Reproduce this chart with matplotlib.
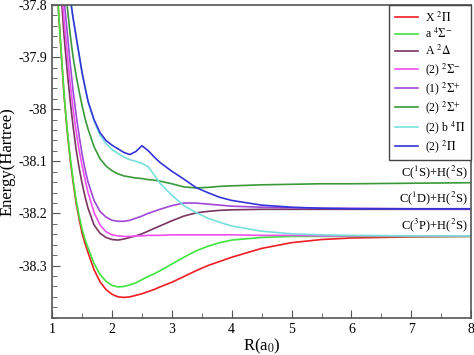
import numpy as np
import matplotlib
matplotlib.use("Agg")
import matplotlib.pyplot as plt
from matplotlib.ticker import MultipleLocator

plt.rcParams['font.family'] = ['Liberation Serif', 'DejaVu Serif']
plt.rcParams['mathtext.fontset'] = 'stix'

# bond length grid (a0)
R = [1.05, 1.1, 1.15, 1.2, 1.25, 1.3, 1.35, 1.4, 1.45, 1.5, 1.55, 1.6, 1.7, 1.8,
     1.9, 2.0, 2.1, 2.2, 2.3, 2.4, 2.5, 2.6, 2.7, 2.8, 3.0, 3.2, 3.4, 3.6, 3.8,
     4.0, 4.5, 5.0, 5.5, 6.0, 7.0, 8.0]

X2Pi = [-37.70, -37.80, -37.89, -37.975, -38.04, -38.095, -38.14, -38.18, -38.21,
        -38.238, -38.258, -38.275, -38.308, -38.331, -38.346, -38.355, -38.360,
        -38.361, -38.360, -38.357, -38.354, -38.350, -38.346, -38.341, -38.332,
        -38.321, -38.310, -38.300, -38.292, -38.284, -38.267, -38.256, -38.250,
        -38.247, -38.245, -38.244]
a4SigM = [-37.70, -37.80, -37.888, -37.972, -38.037, -38.091, -38.135, -38.174,
          -38.204, -38.23, -38.25, -38.266, -38.296, -38.317, -38.330, -38.338,
          -38.341, -38.340, -38.337, -38.333, -38.327, -38.321, -38.316, -38.310,
          -38.297, -38.284, -38.272, -38.263, -38.256, -38.251, -38.246, -38.244,
          -38.244, -38.244, -38.244, -38.244]
A2Delta = [-37.60, -37.69, -37.78, -37.86, -37.925, -37.982, -38.033, -38.077,
           -38.112, -38.142, -38.168, -38.19, -38.222, -38.238, -38.246, -38.250,
           -38.251, -38.249, -38.246, -38.243, -38.239, -38.234, -38.229, -38.224,
           -38.214, -38.205, -38.199, -38.196, -38.194, -38.193, -38.192, -38.192,
           -38.192, -38.192, -38.192, -38.192]
Sig2M_2 = [-37.59, -37.68, -37.76, -37.83, -37.89, -37.95, -38.00, -38.042,
           -38.078, -38.108, -38.135, -38.16, -38.198, -38.222, -38.235, -38.241,
           -38.243, -38.244, -38.244, -38.243, -38.243, -38.242, -38.242, -38.242,
           -38.241, -38.241, -38.241, -38.241, -38.241, -38.241, -38.242, -38.242,
           -38.243, -38.243, -38.243, -38.243]
Sig2P_1 = [-37.56, -37.64, -37.72, -37.79, -37.85, -37.91, -37.965, -38.01,
           -38.05, -38.086, -38.115, -38.14, -38.175, -38.196, -38.207, -38.213,
           -38.215, -38.215, -38.213, -38.209, -38.205, -38.200, -38.196, -38.192,
           -38.185, -38.180, -38.180, -38.182, -38.184, -38.186, -38.188, -38.189,
           -38.190, -38.190, -38.191, -38.191]
Sig2P_2 = [-37.45, -37.55, -37.64, -37.72, -37.80, -37.855, -37.90, -37.935,
           -37.965, -37.993, -38.018, -38.038, -38.072, -38.095, -38.109, -38.118,
           -38.124, -38.128, -38.130, -38.132, -38.133, -38.135, -38.136, -38.138,
           -38.143, -38.149, -38.151, -38.150, -38.148, -38.147, -38.145, -38.144,
           -38.143, -38.143, -38.142, -38.141]
b4Pi_2 = [-37.45, -37.54, -37.62, -37.68, -37.74, -37.785, -37.825, -37.86,
          -37.895, -37.93, -37.958, -37.985, -38.022, -38.050, -38.066, -38.077,
          -38.085, -38.092, -38.097, -38.100, -38.104, -38.110, -38.125, -38.142,
          -38.165, -38.185, -38.198, -38.209, -38.217, -38.224, -38.234, -38.239,
          -38.241, -38.242, -38.243, -38.243]
Pi2_2 = [-37.45, -37.54, -37.62, -37.68, -37.74, -37.785, -37.825, -37.86,
         -37.895, -37.93, -37.958, -37.985, -38.02, -38.045, -38.060, -38.069,
         -38.076, -38.083, -38.087, -38.081, -38.070, -38.079, -38.091, -38.102,
         -38.119, -38.134, -38.150, -38.160, -38.169, -38.175, -38.184, -38.188,
         -38.190, -38.191, -38.191, -38.191]

curves = [X2Pi, a4SigM, A2Delta, Sig2M_2, Sig2P_1, Sig2P_2, b4Pi_2, Pi2_2]
labels = [r'X $^2\Pi$', r'a $^4\Sigma^{-}$', r'A $^2\Delta$', r'(2) $^2\Sigma^{-}$',
          r'(1) $^2\Sigma^{+}$', r'(2) $^2\Sigma^{+}$', r'(2) b $^4\Pi$', r'(2) $^2\Pi$']
colors = ['#ee1c24', '#3fe43f', '#7a3462', '#f050f0', '#a048d8', '#3a9a3a',
          '#78e0dc', '#3434d8']

# dissociation limits
limits = [-38.141, -38.191, -38.244]
limit_labels = [r'C($^1$S)+H($^2$S)', r'C($^1$D)+H($^2$S)', r'C($^3$P)+H($^2$S)']

fig = plt.figure(figsize=(4.74, 3.55), dpi=100)
ax = fig.add_axes([0.110, 0.105, 0.884, 0.881])

for y, lab, c in zip(curves, labels, colors):
    ax.plot(R, y, color=c, lw=1.2, label=lab)

for lv, lt in zip(limits, limit_labels):
    ax.text(7.95, lv + 0.004, lt, ha='right', va='bottom', fontsize=9)

ax.set_xlim(1, 8)
ax.set_ylim(-38.4, -37.8)
ax.xaxis.set_minor_locator(MultipleLocator(0.5))
ax.yaxis.set_minor_locator(MultipleLocator(0.02))
ax.set_yticks([-38.3, -38.2, -38.1, -38.0, -37.9, -37.8])
ax.set_yticklabels(['-38.3', '-38.2', '-38.1', '-38', '-37.9', '-37.8'])
ax.set_xticks(range(1, 9))
ax.set_xticklabels([str(i) for i in range(1, 9)])
ax.tick_params(which='both', direction='in', top=False, right=False,
               color='#555555', labelsize=10)
ax.tick_params(which='major', length=6)
ax.tick_params(which='minor', length=3.5)
for s in ax.spines.values():
    s.set_color('#555555')
    s.set_linewidth(1.2)

ax.set_xlabel(r'R(a$_0$)', fontsize=12, labelpad=1)
ax.set_ylabel('Energy(Hartree)', fontsize=12, labelpad=2)

leg = ax.legend(loc='upper right', fontsize=8.5, fancybox=False, framealpha=1,
                edgecolor='#444444', borderaxespad=0, handlelength=2.0,
                handletextpad=0.6, labelspacing=0.22, borderpad=0.45)
leg.get_frame().set_linewidth(1.0)

fig.savefig('out.png', dpi=100)
